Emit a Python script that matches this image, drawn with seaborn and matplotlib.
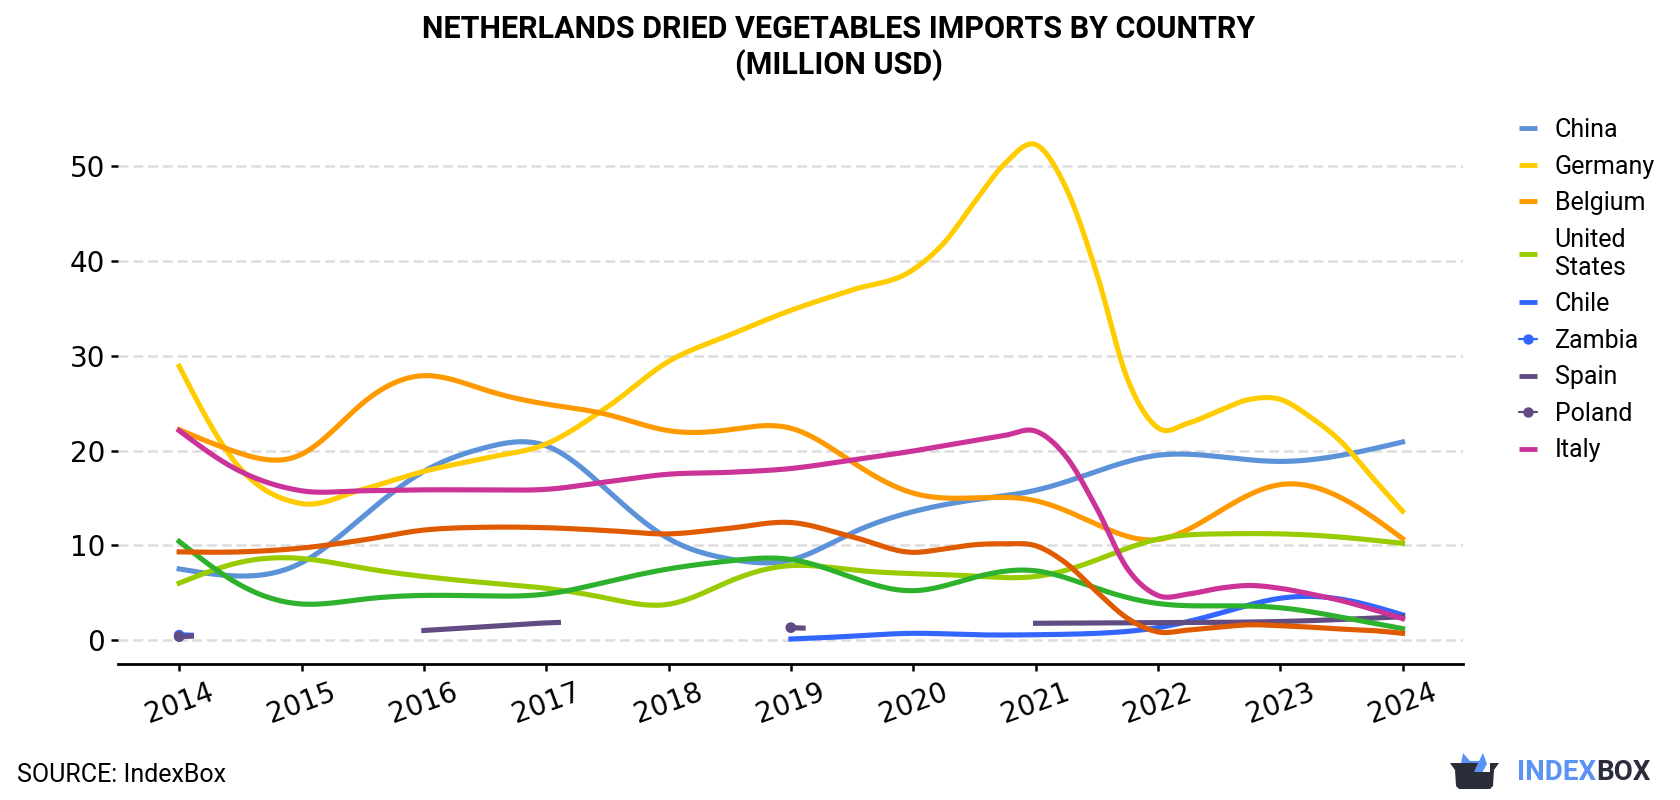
import numpy as np
import pandas as pd
import matplotlib
matplotlib.use("Agg")
import matplotlib.pyplot as plt
from matplotlib.lines import Line2D
from matplotlib.patches import Polygon
import seaborn as sns

# Sampling grids for the series (USD million, by year)
half_years = list(np.arange(2014, 2024.01, 0.5))
fine_years = list(np.arange(2014, 2020.01, 0.5)) + list(np.arange(2020.25, 2023.76, 0.25)) + [2024.0]
chile_years = list(np.arange(2019, 2024.01, 0.5))

china = [7.5, 6.75, 8.15, 13.0, 17.8, 20.3, 20.5, 15.8, 10.7, 8.55, 8.45, 11.3, 13.55, 14.8,
         15.8, 17.8, 19.5, 19.35, 18.85, 19.5, 20.9]
germany = [28.9, 18.1, 14.4, 15.9, 17.8, 19.2, 20.7, 24.6, 29.4, 32.2, 34.8, 36.95, 39.1,
           41.9, 46.2, 50.3, 52.3, 47.7, 38.7, 27.6, 22.4, 22.9, 24.2, 25.4, 25.4, 23.5, 20.9, 17.2, 13.6]
belgium = [22.2, 19.7, 19.6, 25.0, 27.9, 26.4, 24.9, 23.8, 22.1, 22.2, 22.35, 18.8, 15.5, 15.0,
           14.7, 12.2, 10.6, 13.55, 16.4, 15.0, 10.7]
united_states = [6.0, 8.2, 8.6, 7.6, 6.7, 6.05, 5.45, 4.4, 3.77, 6.2, 7.85, 7.4, 7.0, 6.75,
                 6.7, 8.45, 10.65, 11.2, 11.2, 10.85, 10.2]
chile_start = [0.55, 0.5]
chile = [0.1, 0.4, 0.7, 0.55, 0.55, 0.7, 1.3, 2.8, 4.4, 4.3, 2.65]
zambia = [0.5]
spain_early_years = [2016, 2016.5, 2017, 2017.1]
spain_early = [1.0, 1.4, 1.8, 1.85]
spain_late_years = [2021, 2022, 2023, 2024]
spain_late = [1.76, 1.83, 1.95, 2.45]
poland_a = [0.35, 0.4]
poland_b = [1.3, 1.25]
italy = [22.1, 17.8, 15.75, 15.75, 15.85, 15.85, 15.9, 16.7, 17.5, 17.7, 18.1, 19.0, 19.95,
         20.5, 21.05, 21.6, 22.05, 19.35, 13.9, 7.55, 4.7, 4.85, 5.45, 5.75, 5.45, 4.85, 4.15, 3.25, 2.25]
green_series = [10.4, 5.8, 3.8, 4.3, 4.7, 4.65, 4.85, 6.15, 7.5, 8.35, 8.5, 6.6, 5.2, 6.6,
                7.3, 5.45, 3.85, 3.6, 3.4, 2.4, 1.2]
red_series = [9.3, 9.3, 9.7, 10.55, 11.6, 11.9, 11.85, 11.55, 11.2, 11.8, 12.4, 10.9, 9.25,
              9.6, 10.05, 10.15, 9.95, 8.1, 5.1, 2.3, 0.85, 1.05, 1.35, 1.6, 1.5, 1.35, 1.15, 1.0, 0.7]

legend_names = ["China", "Germany", "Belgium", "United\nStates", "Chile", "Zambia", "Spain", "Poland", "Italy"]
year_ticks = list(range(2014, 2025))
y_ticks = [0, 10, 20, 30, 40, 50]

colors = {
    "China": "#5B92D8", "Germany": "#FFCC00", "Belgium": "#FF9900", "United States": "#99CC00",
    "Chile": "#3366FF", "Zambia": "#3366FF", "Spain": "#604C82", "Poland": "#604C82",
    "Italy": "#CC3399", "Other A": "#2EB22E", "Other B": "#E05A00",
}


def spline_curve(xs, ys, n=60):
    """Natural cubic spline through the knots, sampled n times per knot interval."""
    xs, ys = np.asarray(xs, float), np.asarray(ys, float)
    if len(xs) < 3:
        return xs, ys
    h = np.diff(xs)
    size = len(xs)
    lhs = np.zeros((size, size))
    rhs = np.zeros(size)
    lhs[0, 0] = lhs[-1, -1] = 1
    for i in range(1, size - 1):
        lhs[i, i - 1:i + 2] = h[i - 1], 2 * (h[i - 1] + h[i]), h[i]
        rhs[i] = 6 * ((ys[i + 1] - ys[i]) / h[i] - (ys[i] - ys[i - 1]) / h[i - 1])
    m = np.linalg.solve(lhs, rhs)
    out_x, out_y = [], []
    for i in range(size - 1):
        t = np.linspace(xs[i], xs[i + 1], n, endpoint=i == size - 2)
        a, b = xs[i + 1] - t, t - xs[i]
        out_x.append(t)
        out_y.append((m[i] * a**3 + m[i + 1] * b**3) / (6 * h[i])
                     + (ys[i] / h[i] - m[i] * h[i] / 6) * a
                     + (ys[i + 1] / h[i] - m[i + 1] * h[i] / 6) * b)
    return np.concatenate(out_x), np.concatenate(out_y)


def hermite_curve(xs, ys, n=60):
    """Piecewise cubic Hermite curve with three-point tangents; keeps sharp peaks free of ringing."""
    xs, ys = np.asarray(xs, float), np.asarray(ys, float)
    h = np.diff(xs)
    s = np.diff(ys) / h
    d = np.zeros(len(xs))
    d[1:-1] = (h[:-1] * s[1:] + h[1:] * s[:-1]) / (h[:-1] + h[1:])
    d[0] = s[0] + (s[0] - d[1]) * 0.5
    d[-1] = s[-1] + (s[-1] - d[-2]) * 0.5
    out_x, out_y = [], []
    for i in range(len(h)):
        t = np.linspace(0, 1, n, endpoint=i == len(h) - 1)
        out_x.append(xs[i] + t * h[i])
        out_y.append((2 * t**3 - 3 * t**2 + 1) * ys[i] + (t**3 - 2 * t**2 + t) * h[i] * d[i]
                     + (3 * t**2 - 2 * t**3) * ys[i + 1] + (t**3 - t**2) * h[i] * d[i + 1])
    return np.concatenate(out_x), np.concatenate(out_y)


series = [
    ("China", 0, half_years, china, spline_curve),
    ("Germany", 0, fine_years, germany, hermite_curve),
    ("Belgium", 0, half_years, belgium, spline_curve),
    ("United States", 0, half_years, united_states, spline_curve),
    ("Chile", 0, [2014, 2014.1], chile_start, spline_curve),
    ("Chile", 1, chile_years, chile, spline_curve),
    ("Spain", 0, spain_early_years, spain_early, spline_curve),
    ("Spain", 1, spain_late_years, spain_late, spline_curve),
    ("Poland", 0, [2014, 2014.1], poland_a, spline_curve),
    ("Poland", 1, [2019, 2019.1], poland_b, spline_curve),
    ("Italy", 0, fine_years, italy, hermite_curve),
    ("Other A", 0, half_years, green_series, spline_curve),
    ("Other B", 0, fine_years, red_series, hermite_curve),
]
frames = []
for name, seg, xs, ys, curve in series:
    sx, sy = curve(xs, ys)
    frames.append(pd.DataFrame({"country": name, "segment": seg, "year": sx, "value": sy}))
lines = pd.concat(frames, ignore_index=True)
dots = pd.DataFrame({
    "country": ["Zambia", "Poland", "Poland"],
    "year": [2014, 2014, 2019],
    "value": [zambia[0], poland_a[0], poland_b[0]],
})

sns.set_theme(style="white")
plt.rcParams["font.family"] = ["Roboto", "DejaVu Sans"]

W, H = 1680, 800
fig = plt.figure(figsize=(W / 100, H / 100), dpi=100, facecolor="white")
ax = fig.add_axes([118 / W, 1 - 664.3 / H, (1462.5 - 118) / W, (664.3 - 119) / H])

for v in y_ticks:
    ax.axhline(v, color="#DDDDDD", lw=1.8, ls=(0, (4.0, 1.9)), zorder=0.5)

sns.lineplot(data=lines, x="year", y="value", hue="country", units="segment", estimator=None,
             palette=colors, hue_order=list(colors), linewidth=3.7, legend=False, ax=ax,
             solid_capstyle="projecting")
sns.scatterplot(data=dots, x="year", y="value", hue="country", palette=colors, s=60,
                linewidth=0, legend=False, ax=ax, zorder=5)

ax.set_xlim(2013.5, 2024.49)
ax.set_ylim(-2.57, 55)
ax.set_xlabel("")
ax.set_ylabel("")
ax.set_xticks(year_ticks)
ax.set_yticks(y_ticks)
sns.despine(ax=ax, left=True, top=True, right=True)
ax.spines["bottom"].set_linewidth(2)
ax.spines["bottom"].set_color("black")
ax.tick_params(axis="x", length=4.7, width=1.8, color="black", pad=5, labelsize=20,
               labelrotation=20, bottom=True)
ax.tick_params(axis="y", length=4.7, width=1.8, color="black", pad=4.5, labelsize=20, left=True)
for lab in ax.get_xticklabels() + ax.get_yticklabels():
    lab.set_fontfamily("DejaVu Sans")
    lab.set_color("black")

handles = []
for name in legend_names:
    key = name.replace("\n", " ")
    if key in ("Zambia", "Poland"):
        handles.append(Line2D([], [], color=colors[key], lw=1.6, marker="o", ms=6.5))
    else:
        handles.append(Line2D([], [], color=colors[key], lw=3.5, solid_capstyle="butt"))
fig.legend(handles, legend_names, loc="upper left", bbox_to_anchor=(1519 / W, 1 - 118 / H),
           frameon=False, fontsize=18, handlelength=0.71, handletextpad=0.72,
           labelspacing=0.503, borderpad=0, borderaxespad=0, labelcolor="black")

fig.text(838.5 / W, 1 - 29 / H, "NETHERLANDS DRIED VEGETABLES IMPORTS BY COUNTRY", ha="center", va="center",
         fontsize=22, fontweight="bold", color="black")
fig.text(838.5 / W, 1 - 65 / H, "(MILLION USD)", ha="center", va="center",
         fontsize=22, fontweight="bold", color="black")
fig.text(17 / W, 1 - 775 / H, "SOURCE: IndexBox", ha="left", va="center", fontsize=18, color="black")

# Brand mark in the lower right corner, laid out in figure pixels
overlay = fig.add_axes([0, 0, 1, 1], facecolor="none")
overlay.set_xlim(0, W)
overlay.set_ylim(H, 0)
overlay.axis("off")
crown = [(1461, 764), (1463, 753), (1470, 761), (1479, 761), (1483, 753), (1487, 764), (1482, 773), (1461, 773)]
box = [(1450, 763), (1478, 763), (1474, 772), (1490, 772), (1490, 763), (1499, 763), (1494, 770),
       (1493, 786), (1490, 789), (1459, 789), (1456, 786), (1455, 770)]
overlay.add_patch(Polygon(crown, closed=True, fc="#5B93F5", ec="none"))
overlay.add_patch(Polygon(box, closed=True, fc="#2B2D3A", ec="none"))
overlay.text(1596, 773, "INDEX", ha="right", va="center", fontsize=20, fontweight="bold", color="#5B93F5")
overlay.text(1596, 773, "BOX", ha="left", va="center", fontsize=20, fontweight="bold", color="#2B2D3A")

fig.savefig("out.png", dpi=100, facecolor="white")
